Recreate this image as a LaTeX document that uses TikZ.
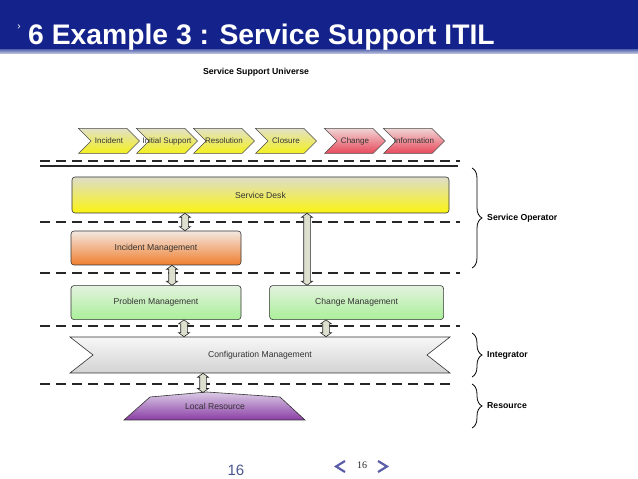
\documentclass[tikz,border=0pt]{standalone}
\usepackage{fontspec}
\setmainfont{Liberation Sans}
\newfontfamily\numserif{Liberation Serif}
\usepackage{tikz}
\usetikzlibrary{positioning,shapes.symbols,decorations.pathreplacing,calc}

\definecolor{band}{HTML}{13238B}
\definecolor{stripetop}{HTML}{6A78B8}
\definecolor{stripebot}{HTML}{CDD2E8}
\definecolor{chevtop}{HTML}{E2E1C6}
\definecolor{chevbot}{HTML}{F4F01C}
\definecolor{redtop}{HTML}{F0D4D4}
\definecolor{redbot}{HTML}{E8485A}
\definecolor{sdtop}{HTML}{DEDDC9}
\definecolor{sdbot}{HTML}{FAF412}
\definecolor{imtop}{HTML}{F3E7E1}
\definecolor{imbot}{HTML}{EF7F2E}
\definecolor{greentop}{HTML}{E3F1DE}
\definecolor{greenbot}{HTML}{AAF09A}
\definecolor{cfgtop}{HTML}{F7F7F7}
\definecolor{cfgbot}{HTML}{D3D3D3}
\definecolor{purpletop}{HTML}{DACCE5}
\definecolor{purplebot}{HTML}{8B3DA6}
\definecolor{arrowfill}{HTML}{DDE0CE}
\definecolor{pagenum}{HTML}{4B5690}
\definecolor{navchev}{HTML}{5B5FA8}

\newcommand\smallfont{\fontsize{8}{9}\selectfont}
\newcommand\boxfont{\fontsize{8.6}{10}\selectfont}

\tikzset{
  chev/.style={signal, signal to=east, signal from=west, draw=black!70, line width=0.5pt,
               minimum width=61pt, minimum height=25pt, inner sep=0pt},
  yellowchev/.style={top color=chevtop, bottom color=chevbot},
  redchev/.style={top color=redtop, bottom color=redbot},
  every label/.style={font=\smallfont, text=black!80},
  box/.style={rectangle, rounded corners=3pt, draw=black!80, line width=0.6pt,
              minimum height=34pt, font=\boxfont, text=black!80},
  green/.style={top color=greentop, bottom color=greenbot},
  sepline/.style={line width=1.3pt, dash pattern=on 10pt off 6pt, black!85},
  solidline/.style={line width=1.3pt, black!85},
  fat/.style={draw=black!85, line width=0.6pt, fill=arrowfill},
  tier/.style={decorate, decoration={brace, amplitude=10pt}, line width=0.8pt},
  tierlabel/.style={anchor=west, inner sep=0pt, font=\bfseries\fontsize{8.7}{10}\selectfont},
  navarrow/.style={navchev, line width=2.2pt},
}

% fat double-headed arrow at x = #1, from #2 (top) down to #3
\newcommand\fatarrow[3]{%
  \path[fat] let \p1=(#2), \p2=(#3) in
    (#1pt,\y1) -- ({#1pt+5.5pt},{\y1-4pt}) -- ({#1pt+3.3pt},{\y1-4pt})
    -- ({#1pt+3.3pt},{\y2+4pt}) -- ({#1pt+5.5pt},{\y2+4pt}) -- (#1pt,\y2)
    -- ({#1pt-5.5pt},{\y2+4pt}) -- ({#1pt-3.3pt},{\y2+4pt})
    -- ({#1pt-3.3pt},{\y1-4pt}) -- ({#1pt-5.5pt},{\y1-4pt}) -- cycle;}

\begin{document}
\begin{tikzpicture}[x=1pt, y=1pt]
  \useasboundingbox (0,0) rectangle (638,479);

  \fill[band] (0,429) rectangle (638,479);
  \shade[top color=stripetop, bottom color=stripebot] (0,425) rectangle (638,429);
  \node[text=white, inner sep=0pt, font=\fontsize{10}{10}\selectfont] (bullet) at (19,452) {›};
  \node[anchor=base west, text=white, inner sep=0pt, font=\bfseries\fontsize{28.3}{30}\selectfont]
    (title) at (28,434) {6 Example 3 : Service Support ITIL};
  \node[font=\bfseries\fontsize{8.7}{10}\selectfont] (universe) at (256,407) {Service Support Universe};

  \node[chev, yellowchev, label=center:Incident] (inc) at (109,338) {};
  \node[chev, yellowchev, label=center:Initial Support] (ini) at (167,338) {};
  \node[chev, yellowchev, label=center:Resolution] (res) at (224,338) {};
  \node[chev, yellowchev, label=center:Closure] (clo) at (286,338) {};
  \node[chev, redchev, label=center:Change] (chg) at (355,338) {};
  \node[chev, redchev, label=center:Information] (inf) at (414,338) {};

  \draw[sepline] (40,318) -- (460,318);
  \draw[solidline] (40,313) -- (458,313);
  \draw[sepline] (40,257) -- (460,257);
  \draw[sepline] (40,206) -- (460,206);
  \draw[sepline] (40,153) -- (460,153);
  \draw[sepline] (40,95) -- (452,95);

  \node[box, top color=sdtop, bottom color=sdbot, minimum width=377pt, minimum height=36pt] (sd) at (260.5,284) {Service Desk};
  \node[box, top color=imtop, bottom color=imbot, minimum width=170pt] (im) at (156,231) {Incident Management};
  \node[box, green, minimum width=170pt] (pm) [below=20pt of im] {Problem Management};
  \node[box, green, minimum width=174pt] (cm) [right=28pt of pm] {Change Management};
  \node[signal, signal to=nowhere, signal from=west and east, signal pointer angle=76,
        draw=black!80, line width=0.6pt, top color=cfgtop, bottom color=cfgbot,
        minimum width=380pt, minimum height=36pt, font=\boxfont, text=black!80]
    (cfg) at (260,124) {Configuration Management};

  \shadedraw[top color=purpletop, bottom color=purplebot, draw=black!80, line width=0.6pt]
    (124,59) -- (150,82) -- (207,87) -- (280,82) -- (305,59) -- cycle;
  \node[font=\boxfont, text=black!80] (lr) at (215,73) {Local Resource};
  \coordinate (lrtop) at (203,86.5);

  \fatarrow{185}{sd.south}{im.north}
  \fatarrow{307}{sd.south}{cm.north}
  \fatarrow{172}{im.south}{pm.north}
  \fatarrow{184}{pm.south}{cfg.north}
  \fatarrow{326}{cm.south}{cfg.north}
  \fatarrow{203}{cfg.south}{lrtop}

  \coordinate (opTop) at (472,311);
  \coordinate (opBot) at (472,211);
  \coordinate (inTop) at (472,146);
  \coordinate (inBot) at (472,102);
  \coordinate (reTop) at (472,95);
  \coordinate (reBot) at (472,51);
  \draw[tier] (opTop) -- (opBot);
  \draw[tier] (inTop) -- (inBot);
  \draw[tier] (reTop) -- (reBot);
  \node[tierlabel] (operator) at (487,261) {Service Operator};
  \node[tierlabel] (integrator) at (487,124) {Integrator};
  \node[tierlabel] (resource) at (487,73) {Resource};

  \node[font=\fontsize{15}{15}\selectfont, text=pagenum] (pgleft) at (236,9) {16};
  \node[font=\numserif\fontsize{10}{10}\selectfont, text=black!85] (pgright) at (362,14) {16};
  \draw[navarrow] (345,18) -- (336,12.5) -- (345,7);
  \draw[navarrow] (378,18) -- (387,12.5) -- (378,7);
\end{tikzpicture}
\end{document}
